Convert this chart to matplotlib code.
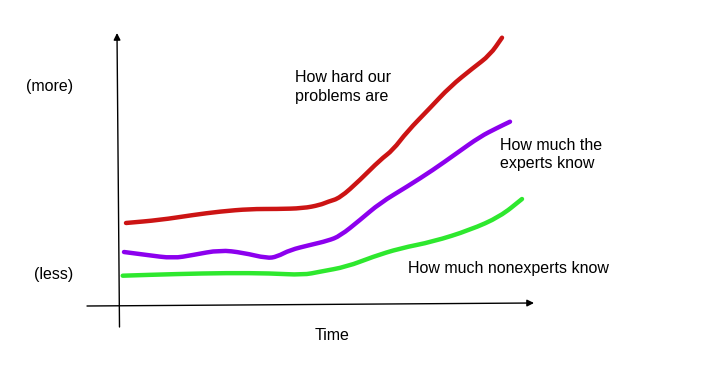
import matplotlib
matplotlib.use("Agg")
import matplotlib.pyplot as plt
from matplotlib.path import Path
from matplotlib.patches import PathPatch

# Hand-drawn chart, values read in picture units (x = time, y = level, screen-down)
red_x = [126, 160, 193, 220, 250, 277, 303, 320, 328, 340, 360, 380, 393, 407, 430, 450, 473, 490, 502]
red_y = [223, 220, 215, 211.5, 209, 209, 208.3, 205, 201.7, 198, 180, 160, 150, 131.7, 108, 86.7, 68, 55, 37.7]

purple_x = [124, 147, 173, 193, 220, 243, 267, 277, 290, 310, 328, 340, 360, 380, 407, 433, 457, 480, 497, 510]
purple_y = [252, 255, 258.3, 255, 250, 252.7, 258.3, 256.7, 250, 245, 240.7, 236, 220, 203, 186.7, 170, 153, 136.7, 128, 121.7]

green_x = [122.7, 177, 227, 270, 303, 320, 347, 373, 400, 433, 470, 500, 522]
green_y = [275.7, 274, 273, 273.3, 275, 271.7, 266.7, 256.7, 248.3, 241.7, 230, 216.7, 199]

series_labels = ["How hard our\nproblems are", "How much the\nexperts know", "How much nonexperts know"]
y_labels = ["(more)", "(less)"]
x_label = "Time"

plt.rcParams['font.family'] = ['Liberation Sans', 'DejaVu Sans']

fig = plt.figure(figsize=(7.2, 3.83), dpi=100)
ax = fig.add_axes([0, 0, 1, 1])
ax.set_xlim(0, 720)
ax.set_ylim(383, 0)
ax.axis('off')

# axes arrows
arrow = dict(arrowstyle='-|>', color='black', lw=1.0, mutation_scale=10, shrinkA=0, shrinkB=0)
ax.annotate('', xy=(117, 33), xytext=(119.5, 327), arrowprops=arrow)
ax.annotate('', xy=(534, 303), xytext=(87, 306), arrowprops=arrow)


def smooth_curve(xs, ys, color):
    pts = list(zip(xs, ys))
    verts = [pts[0]]
    codes = [Path.MOVETO]
    mid = lambda a, b: ((a[0] + b[0]) / 2, (a[1] + b[1]) / 2)
    verts.append(mid(pts[0], pts[1]))
    codes.append(Path.LINETO)
    for i in range(1, len(pts) - 1):
        verts += [pts[i], mid(pts[i], pts[i + 1])]
        codes += [Path.CURVE3, Path.CURVE3]
    verts.append(pts[-1])
    codes.append(Path.LINETO)
    patch = PathPatch(Path(verts, codes), facecolor='none', edgecolor=color,
                      lw=3.2, capstyle='round', joinstyle='round')
    ax.add_patch(patch)


smooth_curve(red_x, red_y, '#cc1414')
smooth_curve(purple_x, purple_y, '#8c00ee')
smooth_curve(green_x, green_y, '#2ee82e')

fs = 11.5
ax.text(295, 87, series_labels[0], fontsize=fs, ha='left', va='center', linespacing=1.3)
ax.text(500, 154.5, series_labels[1], fontsize=fs, ha='left', va='center', linespacing=1.3)
ax.text(408, 268, series_labels[2], fontsize=fs, ha='left', va='center')
ax.text(50, 86, y_labels[0], fontsize=fs, ha='center', va='center')
ax.text(54, 275, y_labels[1], fontsize=fs, ha='center', va='center')
ax.text(332, 336, x_label, fontsize=fs, ha='center', va='center')

fig.savefig('out.png', dpi=100)
